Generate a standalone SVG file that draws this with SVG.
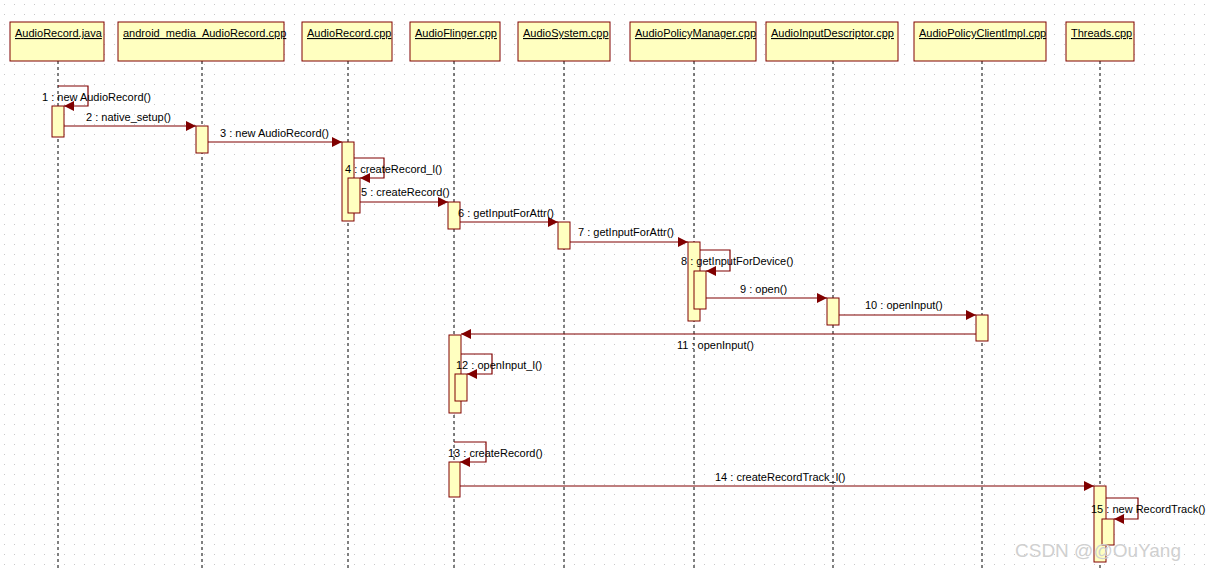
<svg xmlns="http://www.w3.org/2000/svg" width="1210" height="570" viewBox="0 0 1210 570">
<defs>
<pattern id="grid" width="10" height="10" patternUnits="userSpaceOnUse"><rect x="4" y="4" width="1" height="1" fill="#c8c8c8"/></pattern>
<marker id="ah" viewBox="0 0 10 10" refX="10" refY="5" markerWidth="10" markerHeight="10" markerUnits="userSpaceOnUse" orient="auto"><path d="M0,0 L10,5 L0,10 z" fill="#800000"/></marker>
</defs>
<style>
.hd{fill:#ffffc0;stroke:#800000;stroke-width:1}
.ht{font-family:"Liberation Sans",Arial,sans-serif;font-size:11px;fill:#000;text-decoration:underline}
.ll{stroke:#000;stroke-dasharray:3,3;stroke-width:1}
.act{fill:#ffffc0;stroke:#800000;stroke-width:1}
.m{stroke:#800000;stroke-width:1.2;fill:none;marker-end:url(#ah)}
.lb{font-family:"Liberation Sans",Arial,sans-serif;font-size:11px;fill:#000}
</style>
<rect width="1210" height="570" fill="#fff"/>
<rect width="1210" height="570" fill="url(#grid)"/>
<g id="lifelines">
<line class="ll" x1="58" y1="61" x2="58" y2="570"/>
<line class="ll" x1="202" y1="61" x2="202" y2="570"/>
<line class="ll" x1="348" y1="61" x2="348" y2="570"/>
<line class="ll" x1="454" y1="61" x2="454" y2="570"/>
<line class="ll" x1="564" y1="61" x2="564" y2="570"/>
<line class="ll" x1="694" y1="61" x2="694" y2="570"/>
<line class="ll" x1="833" y1="61" x2="833" y2="570"/>
<line class="ll" x1="982" y1="61" x2="982" y2="570"/>
<line class="ll" x1="1100" y1="61" x2="1100" y2="570"/>
</g>
<g id="n1"><rect class="hd" x="10" y="22" width="94" height="39"/><text class="ht" x="15" y="37">AudioRecord.java</text></g>
<g id="n2"><rect class="hd" x="118" y="22" width="166" height="39"/><text class="ht" x="123" y="37">android_media_AudioRecord.cpp</text></g>
<g id="n3"><rect class="hd" x="302" y="22" width="90" height="39"/><text class="ht" x="307" y="37">AudioRecord.cpp</text></g>
<g id="n4"><rect class="hd" x="410" y="22" width="90" height="39"/><text class="ht" x="415" y="37">AudioFlinger.cpp</text></g>
<g id="n5"><rect class="hd" x="518" y="22" width="92" height="39"/><text class="ht" x="523" y="37">AudioSystem.cpp</text></g>
<g id="n6"><rect class="hd" x="630" y="22" width="126" height="39"/><text class="ht" x="635" y="37">AudioPolicyManager.cpp</text></g>
<g id="n7"><rect class="hd" x="766" y="22" width="132" height="39"/><text class="ht" x="771" y="37">AudioInputDescriptor.cpp</text></g>
<g id="n8"><rect class="hd" x="914" y="22" width="132" height="39"/><text class="ht" x="919" y="37">AudioPolicyClientImpl.cpp</text></g>
<g id="n9"><rect class="hd" x="1066" y="22" width="68" height="39"/><text class="ht" x="1071" y="37">Threads.cpp</text></g>
<g id="activations">
<rect class="act" x="52" y="106" width="12" height="31"/>
<rect class="act" x="196" y="126" width="12" height="27"/>
<rect class="act" x="342" y="142" width="12" height="79"/>
<rect class="act" x="348" y="178" width="12" height="35"/>
<rect class="act" x="448" y="202" width="12" height="27"/>
<rect class="act" x="558" y="222" width="12" height="27"/>
<rect class="act" x="688" y="242" width="12" height="79"/>
<rect class="act" x="694" y="271" width="12" height="38"/>
<rect class="act" x="827" y="298" width="12" height="27"/>
<rect class="act" x="976" y="315" width="12" height="26"/>
<rect class="act" x="449" y="335" width="12" height="78"/>
<rect class="act" x="455" y="374" width="12" height="27"/>
<rect class="act" x="449" y="462" width="11" height="35"/>
<rect class="act" x="1094" y="486" width="12" height="76"/>
<rect class="act" x="1102" y="519" width="12" height="26"/>
</g>
<g id="connectors">
<path class="m" d="M58,86 H88 V106 H64"/>
<path class="m" d="M64,126 H196"/>
<path class="m" d="M208,142 H342"/>
<path class="m" d="M354,158 H384 V178 H360"/>
<path class="m" d="M360,202 H448"/>
<path class="m" d="M460,222 H558"/>
<path class="m" d="M570,242 H688"/>
<path class="m" d="M700,250 H730 V271 H706"/>
<path class="m" d="M706,298 H827"/>
<path class="m" d="M839,315 H976"/>
<path class="m" d="M976,334 H461"/>
<path class="m" d="M461,354 H492 V374 H467"/>
<path class="m" d="M454,442 H486 V462 H460"/>
<path class="m" d="M460,486 H1094"/>
<path class="m" d="M1106,498 H1138 V519 H1114"/>
</g>
<g id="labels">
<text class="lb" x="42" y="101">1 : new AudioRecord()</text>
<text class="lb" x="86" y="121">2 : native_setup()</text>
<text class="lb" x="220" y="137">3 : new AudioRecord()</text>
<text class="lb" x="345" y="173">4 : createRecord_l()</text>
<text class="lb" x="361" y="196">5 : createRecord()</text>
<text class="lb" x="458" y="217">6 : getInputForAttr()</text>
<text class="lb" x="578" y="236">7 : getInputForAttr()</text>
<text class="lb" x="681" y="265">8 : getInputForDevice()</text>
<text class="lb" x="740" y="293">9 : open()</text>
<text class="lb" x="865" y="309">10 : openInput()</text>
<text class="lb" x="677" y="349">11 : openInput()</text>
<text class="lb" x="456" y="369">12 : openInput_l()</text>
<text class="lb" x="448" y="457">13 : createRecord()</text>
<text class="lb" x="715" y="481">14 : createRecordTrack_l()</text>
<text class="lb" x="1091" y="513">15 : new RecordTrack()</text>
</g>
<text x="1015" y="557" font-family="Liberation Sans,Arial,sans-serif" font-size="19" fill="#d0d0d0">CSDN @@OuYang</text>
</svg>
